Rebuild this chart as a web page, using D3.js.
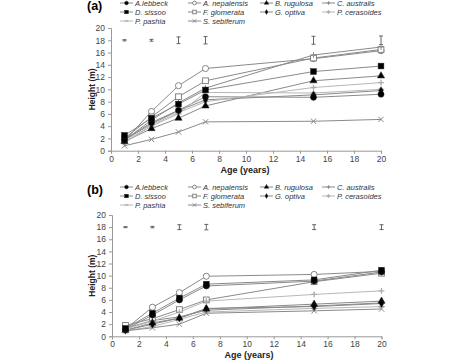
<!DOCTYPE html>
<html>
<head>
<meta charset="utf-8">
<script src="https://cdn.jsdelivr.net/npm/d3@7"></script>
<style>
  body { margin: 0; background: #fff; }
  text { font-family: Arial, "Liberation Sans", sans-serif; }
</style>
</head>
<body>
<div id="chart"></div>
<script>
// ages at which heights were measured
var ages = [1, 3, 5, 7, 15, 20];

var species = ["A.lebbeck", "A. nepalensis", "B. rugulosa", "C. australis",
               "D. sissoo", "F. glomerata", "G. optiva", "P. cerasoides",
               "P. pashia", "S. sebiferum"];

// marker type for each species, same order
var markers = ["circleF", "circleO", "triF", "plus", "squareF", "squareO",
               "diamondF", "plusL", "dash", "cross"];

// panel (a) heights (m)
var heightsA = [
    [1.8, 4.6, 6.6, 8.8, 8.7, 9.2],
    [1.6, 6.4, 10.6, 13.4, 15.0, 16.3],
    [1.5, 3.6, 5.3, 7.3, 11.4, 12.2],
    [1.7, 5.0, 7.8, 10.2, 15.6, 16.9],
    [2.5, 5.3, 7.6, 9.9, 12.9, 13.8],
    [2.0, 5.5, 8.8, 11.4, 15.1, 16.5],
    [1.7, 4.4, 6.5, 8.3, 9.1, 9.8],
    [1.4, 4.2, 6.2, 8.0, 10.3, 11.1],
    [1.3, 4.0, 6.0, 9.5, 9.4, 10.0],
    [0.8, 1.85, 3.05, 4.7, 4.8, 5.1]
];

// panel (b) heights (m)
var heightsB = [
    [1.1, 3.5, 6.0, 8.3, 9.1, 10.6],
    [1.2, 4.8, 7.2, 9.9, 10.2, 10.7],
    [1.0, 2.2, 3.0, 4.5, 5.3, 5.8],
    [1.3, 2.6, 3.2, 4.3, 5.0, 5.5],
    [1.3, 3.8, 6.3, 8.6, 9.3, 10.9],
    [1.8, 2.9, 4.4, 6.0, 9.0, 10.4],
    [1.0, 2.0, 3.0, 4.6, 4.9, 5.4],
    [1.2, 2.5, 4.0, 5.8, 6.9, 7.5],
    [0.9, 1.6, 2.8, 4.0, 4.6, 4.9],
    [0.9, 1.4, 2.0, 3.8, 4.2, 4.5]
];

// LSD bars drawn at height 18 (half length, m)
var lsdA = [0.1, 0.15, 0.55, 0.6, 0.65, 0.7];
var lsdB = [0.08, 0.12, 0.4, 0.45, 0.4, 0.4];

var yTicks = d3.range(0, 21, 2),
    xTicks = d3.range(0, 21, 2);

var svg = d3.select("#chart").append("svg")
    .attr("width", 474)
    .attr("height", 363);

// draws one marker of the given type at (x, y)
function drawMarker(g, type, x, y, s) {
    let sym;
    if (type == "circleF" || type == "circleO") {
        sym = g.append("circle").attr("cx", x).attr("cy", y).attr("r", 3.4 * s);
    } else if (type == "squareF" || type == "squareO") {
        sym = g.append("rect").attr("x", x - 3.2 * s).attr("y", y - 3.2 * s)
            .attr("width", 6.4 * s).attr("height", 6.4 * s);
    } else if (type == "triF") {
        sym = g.append("path").attr("transform", "translate(" + x + "," + y + ")")
            .attr("d", d3.symbol().type(d3.symbolTriangle).size(28 * s * s)());
    } else if (type == "diamondF") {
        sym = g.append("path").attr("transform", "translate(" + x + "," + y + ")")
            .attr("d", d3.symbol().type(d3.symbolDiamond).size(22 * s * s)());
    } else if (type == "plus" || type == "plusL") {
        let r = 3.2 * s;
        sym = g.append("path")
            .attr("d", "M" + (x - r) + "," + y + "H" + (x + r) + "M" + x + "," + (y - r) + "V" + (y + r));
    } else if (type == "dash") {
        sym = g.append("path").attr("d", "M" + (x - 3.5 * s) + "," + y + "H" + (x + 3.5 * s));
    } else {
        let r = 3 * s;
        sym = g.append("path")
            .attr("d", "M" + (x - r) + "," + (y - r) + "L" + (x + r) + "," + (y + r) +
                       "M" + (x - r) + "," + (y + r) + "L" + (x + r) + "," + (y - r));
    }
    if (type.slice(-1) == "F") {
        sym.attr("fill", "#000").attr("stroke", "#222").attr("stroke-width", 0.5);
    } else if (type.slice(-1) == "O") {
        sym.attr("fill", "#fff").attr("stroke", "#777").attr("stroke-width", 0.9);
    } else if (type == "plusL" || type == "dash") {
        sym.attr("fill", "none").attr("stroke", "#aaa").attr("stroke-width", 1.3);
    } else {
        sym.attr("fill", "none").attr("stroke", "#888").attr("stroke-width", 1);
    }
}

function lineColor(i) {
    if (markers[i] == "plusL" || markers[i] == "dash") return "#b8b8b8";
    return "#8a8a8a";
}

function drawPanel(opts) {
    let x = d3.scaleLinear().domain([0, 20]).range([opts.left, opts.right]),
        y = d3.scaleLinear().domain([0, 20]).range([opts.bottom, opts.top]);

    let g = svg.append("g");

    // panel letter
    g.append("text")
        .attr("x", 87).attr("y", opts.legendTop + 7)
        .attr("font-size", 12.5).attr("font-weight", "bold")
        .text(opts.label);

    // legend, 4 columns
    let colX = [120, 188, 260, 322];
    species.forEach(function(name, i) {
        let lx = colX[i % 4],
            ly = opts.legendTop + Math.floor(i / 4) * 9;
        g.append("line")
            .attr("x1", lx).attr("x2", lx + 13)
            .attr("y1", ly).attr("y2", ly)
            .attr("stroke", lineColor(i)).attr("stroke-width", 1);
        drawMarker(g, markers[i], lx + 6.5, ly, 0.55);
        g.append("text")
            .attr("x", lx + 15).attr("y", ly + 2.8)
            .attr("font-size", 7.5).attr("font-style", "italic")
            .attr("fill", "#333")
            .text(name);
    });

    // axes
    let yAxis = g.append("g")
        .attr("transform", "translate(" + opts.left + ",0)")
        .call(d3.axisLeft(y).tickValues(yTicks).tickSize(3).tickPadding(3));
    let xAxis = g.append("g")
        .attr("transform", "translate(0," + opts.bottom + ")")
        .call(d3.axisBottom(x).tickValues(xTicks).tickSize(3).tickPadding(2));
    [xAxis, yAxis].forEach(function(a) {
        a.select(".domain").attr("stroke", "#999");
        a.selectAll(".tick line").attr("stroke", "#999");
        a.selectAll(".tick text").attr("font-size", 8.5).attr("fill", "#444")
            .attr("font-family", "Arial, 'Liberation Sans', sans-serif");
    });

    g.append("text")
        .attr("transform", "translate(95," + ((opts.top + opts.bottom) / 2) + ") rotate(-90)")
        .attr("text-anchor", "middle")
        .attr("font-size", 8.5).attr("font-weight", "bold").attr("fill", "#222")
        .text("Height (m)");
    g.append("text")
        .attr("x", opts.titleX).attr("y", opts.bottom + 22)
        .attr("text-anchor", "middle")
        .attr("font-size", 9).attr("font-weight", "bold").attr("fill", "#222")
        .text("Age (years)");

    // LSD bars at 18 m
    let bars = g.append("g").attr("stroke", "#555").attr("stroke-width", 0.9);
    ages.forEach(function(a, i) {
        let cx = x(a), y1 = y(18 - opts.lsd[i]), y2 = y(18 + opts.lsd[i]);
        bars.append("line").attr("x1", cx).attr("x2", cx).attr("y1", y1).attr("y2", y2);
        bars.append("line").attr("x1", cx - 2).attr("x2", cx + 2).attr("y1", y1).attr("y2", y1);
        bars.append("line").attr("x1", cx - 2).attr("x2", cx + 2).attr("y1", y2).attr("y2", y2);
    });

    // series lines then markers
    let line = d3.line()
        .x(function(d, i) { return x(ages[i]); })
        .y(function(d) { return y(d); });

    opts.data.forEach(function(vals, i) {
        g.append("path")
            .attr("d", line(vals))
            .attr("fill", "none")
            .attr("stroke", lineColor(i))
            .attr("stroke-width", 1);
    });
    // draw open markers first so filled ones stay visible on top
    let order = [1, 5, 3, 7, 8, 9, 2, 6, 0, 4];
    order.forEach(function(i) {
        opts.data[i].forEach(function(v, j) {
            drawMarker(g, markers[i], x(ages[j]), y(v), 0.9);
        });
    });
}

drawPanel({ label: "(a)", legendTop: 3, top: 28, bottom: 150.7, left: 111, right: 381,
            data: heightsA, lsd: lsdA, titleX: 245 });
drawPanel({ label: "(b)", legendTop: 187, top: 215, bottom: 336.3, left: 112, right: 381.5,
            data: heightsB, lsd: lsdB, titleX: 249 });
</script>
</body>
</html>
